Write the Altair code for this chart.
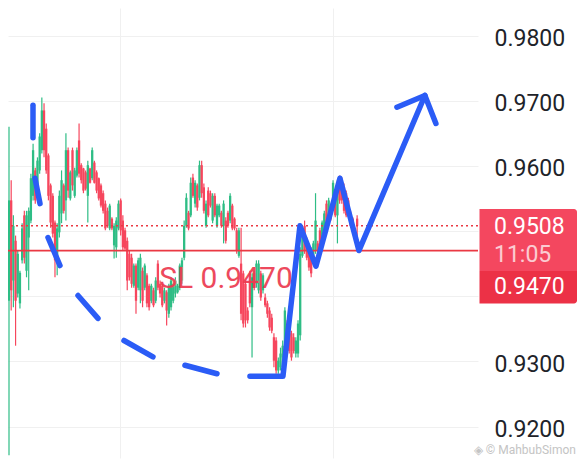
import altair as alt
import pandas as pd

# ---- candle data (prices in units of 0.0001) ----
PRICE_SCALE = 10000
OPEN_1E4 = [
    9393, 9547, 9424, 9485, 9404, 9389, 9455, 9524, 9439, 9490,
    9516, 9554, 9593, 9554, 9593, 9624, 9685, 9657, 9616, 9570,
    9554, 9513, 9455, 9498, 9527, 9570, 9547, 9624, 9550, 9624,
    9554, 9585, 9639, 9601, 9596, 9590, 9554, 9596, 9581, 9605,
    9590, 9581, 9570, 9558, 9542, 9531, 9504, 9519, 9478, 9475,
    9504, 9547, 9516, 9501, 9485, 9465, 9459, 9416, 9447, 9413,
    9409, 9439, 9413, 9432, 9416, 9393, 9409, 9393, 9450, 9419,
    9416, 9393, 9406, 9373, 9383, 9393, 9404, 9406, 9413, 9424,
    9459, 9508, 9528, 9524, 9582, 9542, 9570, 9551, 9601, 9567,
    9508, 9562, 9558, 9516, 9554, 9508, 9524, 9528, 9508, 9516,
    9528, 9516, 9539, 9519, 9501, 9462, 9450, 9435, 9419, 9378,
    9435, 9383, 9435, 9419, 9409, 9435, 9409, 9398, 9389, 9378,
    9367, 9337, 9332, 9286, 9291, 9306, 9324, 9358, 9347, 9343,
    9337, 9312, 9312, 9340, 9462, 9508, 9485, 9478, 9470, 9459,
    9470, 9481, 9501, 9490, 9501, 9542, 9516, 9539, 9536, 9558,
    9524, 9581, 9578, 9567, 9558, 9547, 9528, 9519, 9496, 9519,
]
HIGH_1E4 = [
    9660, 9578, 9524, 9493, 9470, 9439, 9512, 9531, 9531, 9536,
    9588, 9634, 9597, 9613, 9650, 9705, 9696, 9665, 9619, 9573,
    9558, 9516, 9512, 9562, 9593, 9573, 9650, 9628, 9593, 9628,
    9597, 9628, 9665, 9604, 9597, 9593, 9608, 9597, 9628, 9608,
    9593, 9582, 9573, 9562, 9547, 9536, 9542, 9521, 9512, 9521,
    9547, 9550, 9524, 9505, 9490, 9470, 9465, 9450, 9450, 9459,
    9465, 9444, 9450, 9435, 9419, 9419, 9413, 9429, 9455, 9424,
    9419, 9413, 9409, 9419, 9429, 9419, 9429, 9419, 9450, 9459,
    9516, 9558, 9531, 9582, 9588, 9578, 9573, 9608, 9608, 9573,
    9547, 9567, 9562, 9558, 9558, 9542, 9542, 9531, 9547, 9521,
    9531, 9558, 9542, 9521, 9505, 9505, 9505, 9439, 9424, 9383,
    9439, 9435, 9439, 9455, 9455, 9439, 9435, 9404, 9393, 9383,
    9373, 9343, 9337, 9306, 9321, 9332, 9383, 9363, 9352, 9347,
    9343, 9337, 9363, 9475, 9505, 9516, 9490, 9481, 9475, 9485,
    9558, 9485, 9505, 9516, 9531, 9547, 9551, 9542, 9578, 9562,
    9578, 9585, 9582, 9573, 9562, 9551, 9531, 9521, 9505, 9524,
]
LOW_1E4 = [
    9156, 9378, 9383, 9324, 9398, 9381, 9450, 9450, 9429, 9409,
    9512, 9547, 9542, 9547, 9588, 9619, 9613, 9588, 9547, 9505,
    9490, 9429, 9432, 9490, 9512, 9527, 9516, 9551, 9547, 9562,
    9551, 9582, 9582, 9573, 9558, 9562, 9513, 9573, 9578, 9573,
    9558, 9547, 9536, 9527, 9501, 9505, 9501, 9501, 9458, 9459,
    9501, 9493, 9470, 9470, 9409, 9424, 9413, 9413, 9373, 9409,
    9389, 9383, 9409, 9383, 9378, 9389, 9383, 9389, 9409, 9398,
    9383, 9389, 9355, 9367, 9378, 9389, 9398, 9404, 9409, 9419,
    9455, 9505, 9501, 9521, 9551, 9536, 9531, 9547, 9551, 9527,
    9505, 9521, 9536, 9512, 9521, 9505, 9521, 9505, 9481, 9481,
    9505, 9512, 9501, 9501, 9465, 9459, 9363, 9352, 9352, 9358,
    9383, 9306, 9409, 9413, 9404, 9393, 9404, 9383, 9367, 9347,
    9343, 9291, 9281, 9281, 9286, 9301, 9321, 9321, 9312, 9301,
    9312, 9306, 9306, 9332, 9459, 9465, 9455, 9439, 9429, 9455,
    9465, 9465, 9475, 9485, 9496, 9505, 9512, 9516, 9531, 9521,
    9481, 9542, 9542, 9527, 9521, 9527, 9505, 9501, 9493, 9490,
]
CLOSE_1E4 = [
    9547, 9409, 9508, 9393, 9465, 9436, 9504, 9459, 9524, 9531,
    9581, 9624, 9547, 9608, 9645, 9685, 9624, 9593, 9554, 9513,
    9496, 9455, 9504, 9554, 9578, 9531, 9624, 9562, 9590, 9570,
    9593, 9624, 9588, 9578, 9562, 9565, 9601, 9574, 9624, 9574,
    9562, 9550, 9539, 9531, 9504, 9508, 9539, 9504, 9508, 9516,
    9542, 9501, 9475, 9473, 9424, 9429, 9419, 9447, 9393, 9455,
    9459, 9393, 9447, 9389, 9383, 9416, 9386, 9424, 9413, 9404,
    9386, 9409, 9378, 9416, 9424, 9416, 9424, 9416, 9447, 9455,
    9508, 9551, 9504, 9574, 9554, 9574, 9536, 9601, 9558, 9531,
    9542, 9524, 9539, 9554, 9524, 9539, 9539, 9508, 9542, 9485,
    9508, 9554, 9504, 9504, 9470, 9501, 9373, 9358, 9363, 9363,
    9389, 9429, 9413, 9450, 9450, 9398, 9432, 9386, 9373, 9352,
    9347, 9301, 9286, 9301, 9312, 9324, 9378, 9324, 9316, 9306,
    9316, 9332, 9358, 9465, 9501, 9470, 9459, 9444, 9435, 9481,
    9516, 9470, 9478, 9513, 9527, 9508, 9547, 9519, 9574, 9524,
    9574, 9547, 9547, 9531, 9524, 9531, 9508, 9504, 9504, 9508,
]

LAST_PRICE = 0.9508
STOP_LOSS = 0.9470
COUNTDOWN = "11:05"
Y_TICKS = [0.92, 0.93, 0.94, 0.95, 0.96, 0.97, 0.98]
X_GRID_T = [50.7, 148.0]

# hand-drawn annotation (candle index, price): dashed cup + solid zig-zag arrow
DRAW_SEG = [1, 1, 2, 2, 3, 3, 4, 4, 5, 5, 6, 6,
            7, 7, 7, 7, 7, 7, 7, 8, 8, 8]
DRAW_T = [10.96, 10.96, 11.87, 14.16, 17.81, 23.29, 31.51, 40.64, 52.51, 65.75, 80.37, 94.98,
          110.05, 125.11, 132.88, 140.18, 151.14, 159.82, 189.95, 177.17, 189.95, 194.98]
DRAW_P = [0.9693, 0.9643, 0.9581, 0.9542, 0.9490, 0.9447, 0.9401, 0.9366, 0.9332, 0.9307, 0.9294, 0.9281,
          0.9277, 0.9277, 0.9508, 0.9446, 0.9581, 0.9470, 0.9708, 0.9690, 0.9708, 0.9665]

SL_TEXT_T = 99.1
SL_TEXT_P = 0.9412

GREEN = "#2EBD85"
RED = "#F6465D"
LINE_RED = "#EA3943"
BLUE = "#2B5CF6"
GRID = "#F0F0F0"

n = len(OPEN_1E4)
candles = pd.DataFrame({
    "t": list(range(n)),
    "open": [v / PRICE_SCALE for v in OPEN_1E4],
    "high": [v / PRICE_SCALE for v in HIGH_1E4],
    "low": [v / PRICE_SCALE for v in LOW_1E4],
    "close": [v / PRICE_SCALE for v in CLOSE_1E4],
})
candles["dir"] = ["up" if c >= o else "down" for o, c in zip(OPEN_1E4, CLOSE_1E4)]

x_scale = alt.Scale(domain=[-0.457, 214.2], nice=False, zero=False)
y_scale = alt.Scale(domain=[0.91517, 0.98422], nice=False, zero=False)
color = alt.Color("dir:N", scale=alt.Scale(domain=["up", "down"], range=[GREEN, RED]), legend=None)

x_axis = alt.Axis(values=X_GRID_T, labels=False, ticks=False, domain=False, title=None,
                  grid=True, gridColor=GRID, gridWidth=1)
y_axis = alt.Axis(orient="right", values=Y_TICKS, format=".4f", title=None,
                  labelExpr="abs(datum.value - 0.945) < 0.006 ? '' : datum.label",
                  labelFont="Roboto", labelFontSize=23, labelColor="#1E2329",
                  labelPadding=16, labelOffset=3, ticks=False, tickSize=0, domain=False,
                  grid=True, gridColor=GRID, gridWidth=1)

wick = alt.Chart(candles).mark_rule(strokeWidth=1.2).encode(
    x=alt.X("t:Q", scale=x_scale, axis=x_axis),
    y=alt.Y("low:Q", scale=y_scale, axis=y_axis),
    y2="high:Q",
    color=color,
)
body = alt.Chart(candles).mark_rule(strokeWidth=2.3).encode(
    x="t:Q", y="open:Q", y2="close:Q", color=color,
)

price_line = alt.Chart(pd.DataFrame({"p": [LAST_PRICE]})).mark_rule(
    color=LINE_RED, strokeWidth=1.5, strokeDash=[2, 3]
).encode(y="p:Q")
sl_line = alt.Chart(pd.DataFrame({"p": [STOP_LOSS]})).mark_rule(
    color=LINE_RED, strokeWidth=1.8
).encode(y="p:Q")

sl_text = alt.Chart(pd.DataFrame({"t": [SL_TEXT_T], "p": [SL_TEXT_P],
                                  "txt": [f"SL {STOP_LOSS:.4f}"]})).mark_text(
    font="Roboto", fontSize=30, color="#EC3A50", opacity=0.92,
    align="center", baseline="alphabetic"
).encode(x="t:Q", y="p:Q", text="txt:N")

drawing = pd.DataFrame({"seg": DRAW_SEG, "t": DRAW_T, "p": DRAW_P, "k": list(range(len(DRAW_T)))})
blue = alt.Chart(drawing).mark_line(
    color=BLUE, strokeWidth=5.5, strokeCap="round", strokeJoin="round"
).encode(x="t:Q", y="p:Q", detail="seg:N", order="k:Q")

one = pd.DataFrame({"a": [0]})
box_top = alt.Chart(one).mark_rect(color="#F4475F", cornerRadiusTopRight=3).encode(
    x=alt.value(471.5), x2=alt.value(569), y=alt.value(201), y2=alt.value(263))
box_bot = alt.Chart(one).mark_rect(color="#EC3146", cornerRadiusBottomRight=3).encode(
    x=alt.value(471.5), x2=alt.value(569), y=alt.value(263), y2=alt.value(295.5))

box_txt1 = alt.Chart(one).mark_text(font="Roboto", fontSize=23, color="white",
                                    align="left", baseline="middle").encode(
    x=alt.value(486), y=alt.value(219), text=alt.value(f"{LAST_PRICE:.4f}"))
box_txt2 = alt.Chart(one).mark_text(font="Roboto", fontSize=23, color="#FFFFFF", opacity=0.72,
                                    align="left", baseline="middle").encode(
    x=alt.value(486), y=alt.value(247), text=alt.value(COUNTDOWN))
box_txt3 = alt.Chart(one).mark_text(font="Roboto", fontSize=23, color="white",
                                    align="left", baseline="middle").encode(
    x=alt.value(486), y=alt.value(279), text=alt.value(f"{STOP_LOSS:.4f}"))

watermark = alt.Chart(one).mark_text(font="Roboto", fontSize=12, color="#C4C4C4",
                                     align="right", baseline="middle").encode(
    x=alt.value(568), y=alt.value(442), text=alt.value("◈ © MahbubSimon"))

chart = alt.layer(
    wick, body, price_line, sl_line, sl_text, blue,
    box_top, box_bot, box_txt1, box_txt2, box_txt3, watermark
).properties(
    width=470, height=450,
    autosize=alt.AutoSizeParams(type="none"),
    padding={"left": 0, "top": 0, "right": 99, "bottom": 2},
    background="white",
).configure_view(stroke=None)

chart.save("out.html", embed_options={"renderer": "svg", "actions": False})
